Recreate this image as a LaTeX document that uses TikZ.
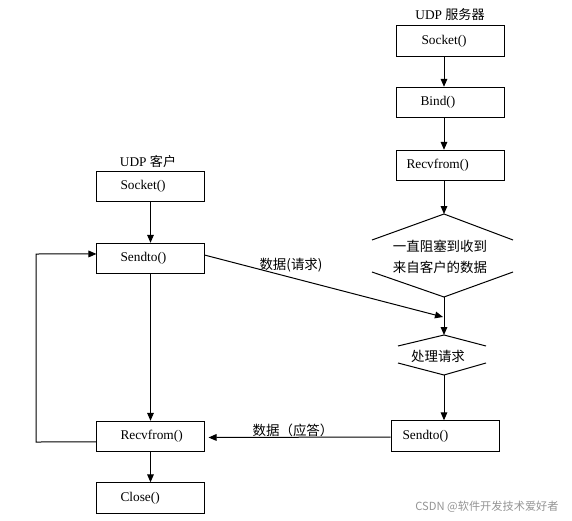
\documentclass[tikz,border=0pt]{standalone}
\usepackage{fontspec}
\setmainfont{Liberation Serif}
\newfontfamily\cjk{Noto Sans CJK SC}
\usetikzlibrary{arrows.meta}
\begin{document}
\begin{tikzpicture}[x=0.75pt,y=-0.75pt,
  line width=0.75pt,
  box/.style={draw, rectangle, inner sep=0pt, minimum height=22.8pt},
  cbox/.style={box, minimum width=80.3pt},
  sbox/.style={box, minimum width=81pt},
  lbl/.style={anchor=west, inner sep=0pt, font=\fontsize{10}{12}\selectfont},
  zh/.style={inner sep=0pt, font=\fontsize{10.1}{15.5}\selectfont\cjk},
  arr/.style={-{Triangle[length=6pt,width=5pt]}}]
\useasboundingbox (0,0) rectangle (572,521);
% titles
\node[inner sep=0pt, font=\fontsize{10}{12}\selectfont] (tserver) at (450,15) {UDP {\cjk\fontsize{9.8}{12}\selectfont 服务器}};
\node[inner sep=0pt, font=\fontsize{10}{12}\selectfont] (tclient) at (148,162) {UDP {\cjk\fontsize{9.8}{12}\selectfont 客户}};
% client boxes
\node[cbox] (csock) at (150.5,186.5) {};
\node[cbox] (csend) at (150.5,258.5) {};
\node[cbox] (crecv) at (150.5,436.5) {};
\node[cbox] (cclose) at (150.5,498) {};
\node[lbl] (tcsock) at (120,186.5) {Socket()};
\node[lbl] (tcsend) at (120,258.5) {Sendto()};
\node[lbl] (tcrecv) at (120,436.5) {Recvfrom()};
\node[lbl] (tcclose) at (120,498) {Close()};
% server boxes
\node[sbox] (ssock) at (450,41) {};
\node[sbox] (sbind) at (450,102.5) {};
\node[sbox] (srecv) at (450,165.5) {};
\node[sbox] (ssend) at (445,436) {};
\node[lbl] (tssock) at (421,41) {Socket()};
\node[lbl] (tsbind) at (420,102.5) {Bind()};
\node[lbl] (tsrecv) at (406,165.5) {Recvfrom()};
\node[lbl] (tssend) at (402,436) {Sendto()};
% spine coordinate for server
\coordinate (spine) at (444,0);
% big truncated diamond
\coordinate (dtop) at (444,214);
\coordinate (dbot) at (444,297);
\coordinate (dlu) at (372,240);
\coordinate (dru) at (513,240);
\coordinate (dll) at (372,272);
\coordinate (drl) at (513,272);
\draw (dlu) -- (dtop) -- (dru);
\draw (dll) -- (dbot) -- (drl);
\node[zh, align=center] (wait) at (440,257) {一直阻塞到收到\\来自客户的数据};
% small truncated diamond
\coordinate (ptop) at (444,335);
\coordinate (pbot) at (444,375);
\coordinate (plu) at (398,346);
\coordinate (pru) at (486,346);
\coordinate (pll) at (398,363);
\coordinate (prl) at (486,363);
\draw (plu) -- (ptop) -- (pru);
\draw (pll) -- (pbot) -- (prl);
\node[zh] (proc) at (438,356) {处理请求};
% server arrows
\draw[arr] (ssock.south -| spine) -- (sbind.north -| spine);
\draw[arr] (sbind.south -| spine) -- (srecv.north -| spine);
\draw[arr] (srecv.south -| spine) -- (dtop);
\draw[arr] (dbot) -- (ptop);
\draw[arr] (pbot) -- (ssend.north -| spine);
% client arrows
\draw[arr] (csock) -- (csend);
\draw[arr] (csend) -- (crecv);
\draw[arr] (crecv) -- (cclose);
% loop
\coordinate (loopb) at (36,442);
\coordinate (loopt) at (36,254);
\draw[arr] ([yshift=-4.1pt]crecv.west) -- (loopb) -- (loopt) -- ([yshift=3.4pt]csend.west);
% request
\coordinate (reqend) at (443,317);
\draw[arr] ([yshift=2.6pt]csend.east) -- (reqend);
\node[zh] (lreq) at (291,265) {数据(请求)};
% reply
\draw[arr, shorten >=3pt] ([yshift=-0.75pt]ssend.west) -- ([yshift=-0.75pt]crecv.east);
\node[zh] (lrep) at (293,430) {数据（应答）};
% watermark
\node[inner sep=0pt, text=black!42, font=\fontsize{8.4}{10}\selectfont\cjk] (wm) at (487,507) {CSDN @软件开发技术爱好者};
\end{tikzpicture}
\end{document}
